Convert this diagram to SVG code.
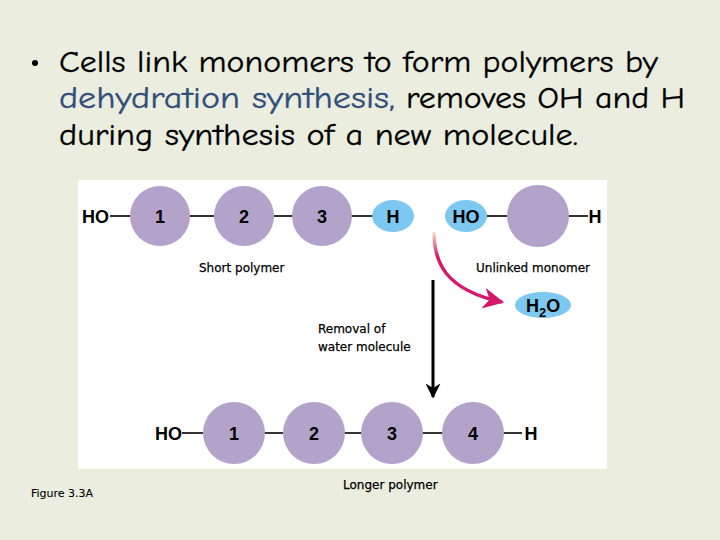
<svg xmlns="http://www.w3.org/2000/svg" width="720" height="540" viewBox="0 0 720 540">
<defs>
<style>
.title{font-family:"Comic Neue","DejaVu Sans","Liberation Sans",sans-serif;font-size:30px;fill:#000;stroke:#000;stroke-width:0.3}
.lbl{font-family:"DejaVu Sans","Liberation Sans",sans-serif;font-size:12px;fill:#000;stroke:#000;stroke-width:0.25}
.b{font-family:"Liberation Sans",Arial,sans-serif;font-weight:bold;font-size:18px;fill:#000}
.mono{fill:#B3A3CB}
.grp{fill:#7CC8F0}
.bond{stroke:#000;stroke-width:1.6}
</style>
<linearGradient id="pk" x1="0" y1="0" x2="0" y2="1">
<stop offset="0" stop-color="#F6E6C8"/>
<stop offset="0.35" stop-color="#D6186C"/>
<stop offset="1" stop-color="#D6186C"/>
</linearGradient>
<marker id="mag" viewBox="0 0 10 10" refX="9" refY="5" markerWidth="6" markerHeight="6" orient="auto" markerUnits="strokeWidth">
<path d="M0,0 L10,5 L0,10 L3,5 z" fill="#D6186C"/>
</marker>
<marker id="blk" viewBox="0 0 10 10" refX="9" refY="5" markerWidth="5" markerHeight="5" orient="auto" markerUnits="strokeWidth">
<path d="M0,0 L10,5 L0,10 L3,5 z" fill="#000"/>
</marker>
</defs>
<rect x="0" y="0" width="720" height="540" fill="#EBEEDF"/>
<g id="title">
<circle cx="35" cy="63" r="3" fill="#000"/>
<text class="title" x="59" y="72" textLength="599" lengthAdjust="spacingAndGlyphs">Cells link monomers to form polymers by</text>
<text class="title" x="59" y="108" fill="#2F4F7A" stroke="#2F4F7A" style="fill:#2F4F7A;stroke:#2F4F7A" textLength="336" lengthAdjust="spacingAndGlyphs">dehydration synthesis,</text>
<text class="title" x="406" y="108" textLength="279" lengthAdjust="spacingAndGlyphs">removes OH and H</text>
<text class="title" x="59" y="145" textLength="519" lengthAdjust="spacingAndGlyphs">during synthesis of a new molecule.</text>
</g>
<rect id="panel" x="78" y="180" width="529" height="289" fill="#FFFFFF"/>
<g id="connectors">
<line class="bond" x1="110" y1="216" x2="131" y2="216"/>
<line class="bond" x1="189" y1="216" x2="215" y2="216"/>
<line class="bond" x1="273" y1="216" x2="293" y2="216"/>
<line class="bond" x1="351" y1="216" x2="373" y2="216"/>
<line class="bond" x1="485" y1="216" x2="508" y2="216"/>
<line class="bond" x1="568" y1="216" x2="588" y2="216"/>
<line class="bond" x1="182" y1="433" x2="204" y2="433"/>
<line class="bond" x1="264" y1="433" x2="284" y2="433"/>
<line class="bond" x1="344" y1="433" x2="362" y2="433"/>
<line class="bond" x1="422" y1="433" x2="443" y2="433"/>
<line class="bond" x1="503" y1="433" x2="522" y2="433"/>
<path d="M434,232 C434,262 445,290 502,302" fill="none" stroke="url(#pk)" stroke-width="3.5" marker-end="url(#mag)"/>
<line x1="433" y1="280" x2="433" y2="397" stroke="#000" stroke-width="3" marker-end="url(#blk)"/>
</g>
<g id="short-polymer">
<text class="b" x="82" y="223">HO</text>
<circle class="mono" cx="160" cy="216" r="30"/>
<text class="b" x="160" y="223" text-anchor="middle">1</text>
<circle class="mono" cx="244" cy="216" r="30"/>
<text class="b" x="244" y="223" text-anchor="middle">2</text>
<circle class="mono" cx="322" cy="216" r="30"/>
<text class="b" x="322" y="223" text-anchor="middle">3</text>
<ellipse class="grp" cx="393" cy="216" rx="21" ry="16"/>
<text class="b" x="393" y="223" text-anchor="middle">H</text>
<text class="lbl" x="199" y="272">Short polymer</text>
</g>
<g id="unlinked-monomer">
<ellipse class="grp" cx="466" cy="216" rx="21" ry="16"/>
<text class="b" x="466" y="223" text-anchor="middle">HO</text>
<circle class="mono" cx="538" cy="216" r="31"/>
<text class="b" x="595" y="223" text-anchor="middle">H</text>
<text class="lbl" x="476" y="272">Unlinked monomer</text>
</g>
<g id="water">
<ellipse class="grp" cx="543" cy="305" rx="28" ry="13"/>
<text class="b" x="526" y="312">H<tspan font-size="13" dy="5">2</tspan><tspan dy="-5">O</tspan></text>
</g>
<g id="removal-label">
<text class="lbl" x="318" y="333">Removal of</text>
<text class="lbl" x="318" y="351">water molecule</text>
</g>
<g id="longer-polymer">
<text class="b" x="155" y="440">HO</text>
<circle class="mono" cx="234" cy="433" r="31"/>
<text class="b" x="234" y="440" text-anchor="middle">1</text>
<circle class="mono" cx="314" cy="433" r="31"/>
<text class="b" x="314" y="440" text-anchor="middle">2</text>
<circle class="mono" cx="392" cy="433" r="31"/>
<text class="b" x="392" y="440" text-anchor="middle">3</text>
<circle class="mono" cx="473" cy="433" r="31"/>
<text class="b" x="473" y="440" text-anchor="middle">4</text>
<text class="b" x="531" y="440" text-anchor="middle">H</text>
<text class="lbl" x="343" y="489">Longer polymer</text>
</g>
<text id="figure" class="lbl" x="31" y="497" font-size="11" style="font-size:11px;stroke-width:0.1">Figure 3.3A</text>
</svg>
